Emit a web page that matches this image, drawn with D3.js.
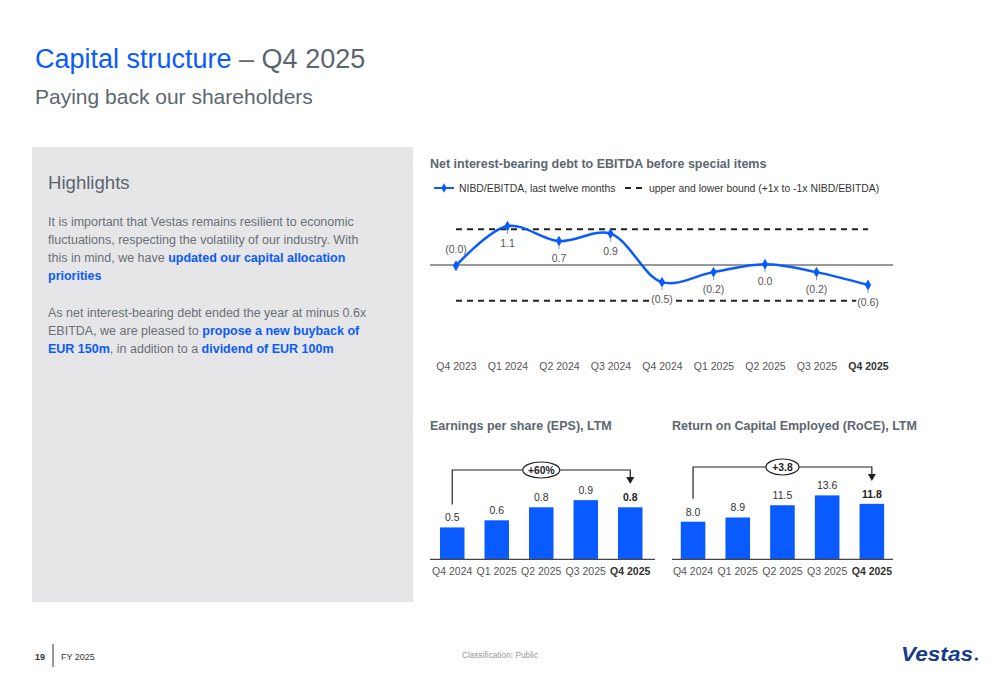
<!DOCTYPE html>
<html>
<head>
<meta charset="utf-8">
<script src="https://cdn.jsdelivr.net/npm/d3@7"></script>
<style>
  body { margin: 0; background: #fff; }
  svg { display: block; font-family: "Liberation Sans", Arial, sans-serif; }
</style>
</head>
<body>
<svg id="slide" width="1000" height="685"></svg>
<script>
// data
const quarters = ["Q4 2023", "Q1 2024", "Q2 2024", "Q3 2024", "Q4 2024", "Q1 2025", "Q2 2025", "Q3 2025", "Q4 2025"];
const nibdRatio = [-0.02, 1.09, 0.67, 0.88, -0.48, -0.2, 0.02, -0.2, -0.56];
const boundValues = [1, -1];

const barQuarters = ["Q4 2024", "Q1 2025", "Q2 2025", "Q3 2025", "Q4 2025"];
const epsValues = [0.49, 0.60, 0.80, 0.91, 0.80];
const roceValues = [8.0, 8.9, 11.5, 13.6, 11.8];
const epsChange = "+60%";
const roceChange = "+3.8";

const blue = "#0a5bff";
const grayTitle = "#5c6670";
const grayText = "#6b6f76";
const FONT = "Liberation Sans, Arial, sans-serif";

const svg = d3.select("#slide");

// ---------- header ----------
const title = svg.append("text").attr("x", 35).attr("y", 68).attr("font-size", 27);
title.append("tspan").attr("fill", blue).text("Capital structure");
title.append("tspan").attr("fill", grayTitle).text(" \u2013 Q4 2025");
svg.append("text").attr("x", 35).attr("y", 104).attr("font-size", 21)
  .attr("fill", grayTitle).text("Paying back our shareholders");

// ---------- highlights panel ----------
svg.append("rect").attr("x", 32).attr("y", 147).attr("width", 381).attr("height", 455)
  .attr("fill", "#e6e6e9");
svg.append("text").attr("x", 48).attr("y", 189).attr("font-size", 18.6)
  .attr("fill", grayTitle).text("Highlights");

const paraLines = [
  [["It is important that Vestas remains resilient to economic", false]],
  [["fluctuations, respecting the volatility of our industry. With", false]],
  [["this in mind, we have ", false], ["updated our capital allocation", true]],
  [["priorities", true]],
  null,
  [["As net interest-bearing debt ended the year at minus 0.6x", false]],
  [["EBITDA, we are pleased to ", false], ["propose a new buyback of", true]],
  [["EUR 150m", true], [", in addition to a ", false], ["dividend of EUR 100m", true]]
];
paraLines.forEach(function(line, i) {
  if (!line) return;
  const t = svg.append("text").attr("x", 48).attr("y", 226 + i * 18.1).attr("font-size", 12.5);
  line.forEach(function(part) {
    t.append("tspan")
      .attr("fill", part[1] ? blue : grayText)
      .attr("font-weight", part[1] ? "bold" : "normal")
      .text(part[0]);
  });
});

// ---------- NIBD/EBITDA line chart ----------
svg.append("text").attr("x", 430).attr("y", 168).attr("font-size", 12.5)
  .attr("font-weight", "bold").attr("fill", grayTitle)
  .text("Net interest-bearing debt to EBITDA before special items");

// legend
const leg = svg.append("g").attr("font-size", 10.4).attr("fill", "#333");
leg.append("line").attr("x1", 434).attr("x2", 454).attr("y1", 188).attr("y2", 188)
  .attr("stroke", blue).attr("stroke-width", 2);
leg.append("path").attr("d", d3.symbol(d3.symbolDiamond, 26)())
  .attr("transform", "translate(444,188)").attr("fill", blue);
leg.append("text").attr("x", 459).attr("y", 191.8).text("NIBD/EBITDA, last twelve months");
leg.append("line").attr("x1", 625).attr("x2", 642).attr("y1", 188).attr("y2", 188)
  .attr("stroke", "#222").attr("stroke-width", 2).attr("stroke-dasharray", "6,5");
leg.append("text").attr("x", 649).attr("y", 191.8).text("upper and lower bound (+1x to -1x NIBD/EBITDA)");

const xLine = d3.scalePoint().domain(quarters).range([456, 868]);
const yLine = d3.scaleLinear().domain([-1, 1]).range([300.7, 229.3]);

// zero line
svg.append("line").attr("x1", 430).attr("x2", 893)
  .attr("y1", yLine(0)).attr("y2", yLine(0))
  .attr("stroke", "#333").attr("stroke-width", 1);

// bounds
svg.selectAll(".bound").data(boundValues).enter().append("line")
  .attr("class", "bound")
  .attr("x1", xLine(quarters[0])).attr("x2", xLine(quarters[quarters.length - 1]))
  .attr("y1", d => yLine(d)).attr("y2", d => yLine(d))
  .attr("stroke", "#222").attr("stroke-width", 2).attr("stroke-dasharray", "6,5");

const pts = quarters.map((q, i) => ({ q: q, v: nibdRatio[i], i: i }));

const line = d3.line().x(d => xLine(d.q)).y(d => yLine(d.v)).curve(d3.curveCatmullRom.alpha(0.5));
svg.append("path").datum(pts).attr("d", line)
  .attr("fill", "none").attr("stroke", blue).attr("stroke-width", 2.5);

svg.selectAll(".mk").data(pts).enter().append("path")
  .attr("class", "mk")
  .attr("d", d3.symbol(d3.symbolDiamond, 34)())
  .attr("transform", d => "translate(" + xLine(d.q) + "," + yLine(d.v) + ")")
  .attr("fill", blue);

const fmtRatio = v => v < 0 ? "(" + Math.abs(v).toFixed(1) + ")" : v.toFixed(1);

// little leader ticks from point to label
svg.selectAll(".lead").data(pts.filter(d => d.i > 0)).enter().append("line")
  .attr("class", "lead")
  .attr("x1", d => xLine(d.q)).attr("x2", d => xLine(d.q))
  .attr("y1", d => yLine(d.v) + 5).attr("y2", d => yLine(d.v) + 8)
  .attr("stroke", "#999").attr("stroke-width", 1);

svg.selectAll(".lbl").data(pts).enter().append("text")
  .attr("class", "lbl")
  .attr("x", d => xLine(d.q))
  .attr("y", d => d.i === 0 ? yLine(d.v) - 12.5 : yLine(d.v) + 21)
  .attr("text-anchor", "middle").attr("font-size", 10.5).attr("fill", "#555")
  .attr("stroke", d => d.i >= 4 && d.v <= -0.45 ? "#fff" : "none")
  .attr("stroke-width", 4).attr("paint-order", "stroke")
  .text(d => fmtRatio(d.v));

const xAxisLine = svg.append("g").attr("transform", "translate(0,363)")
  .call(d3.axisBottom(xLine).tickSize(0).tickPadding(0));
xAxisLine.select(".domain").remove();
xAxisLine.selectAll("text")
  .attr("font-size", 10.5).attr("dy", "0.71em").attr("font-family", FONT)
  .attr("font-weight", (d, i) => i === quarters.length - 1 ? "bold" : "normal")
  .attr("fill", (d, i) => i === quarters.length - 1 ? "#333" : "#555");

// ---------- bar charts ----------
function barChart(opts) {
  const g = svg.append("g");
  g.append("text").attr("x", opts.titleX).attr("y", 430).attr("font-size", 12.5)
    .attr("font-weight", "bold").attr("fill", grayTitle).text(opts.title);

  const x = d3.scaleBand().domain(barQuarters).range(opts.range)
    .paddingInner(0.45).paddingOuter(0.225);
  const y = d3.scaleLinear().domain([0, opts.yMax]).range([559.3, 559.3 - opts.yPx]);
  const data = barQuarters.map((q, i) => ({ q: q, v: opts.values[i], i: i }));
  const last = barQuarters.length - 1;

  g.selectAll(".bar").data(data).enter().append("rect")
    .attr("x", d => x(d.q)).attr("width", x.bandwidth())
    .attr("y", d => y(d.v)).attr("height", d => y(0) - y(d.v))
    .attr("fill", blue);

  g.selectAll(".val").data(data).enter().append("text")
    .attr("x", d => x(d.q) + x.bandwidth() / 2)
    .attr("y", d => y(d.v) - 6)
    .attr("text-anchor", "middle").attr("font-size", 10.5)
    .attr("font-weight", d => d.i === last ? "bold" : "normal")
    .attr("fill", d => d.i === last ? "#222" : "#333")
    .text(d => d3.format(".1f")(d.v));

  const ax = g.append("g").attr("transform", "translate(0," + y(0) + ")")
    .call(d3.axisBottom(x).tickSize(0).tickPadding(8));
  ax.select(".domain").attr("stroke", "#444").attr("stroke-width", 1.2)
    .attr("d", "M" + opts.axisX[0] + ",0H" + opts.axisX[1]);
  ax.selectAll("text")
    .attr("font-size", 10.5).attr("font-family", FONT)
    .attr("font-weight", (d, i) => i === last ? "bold" : "normal")
    .attr("fill", (d, i) => i === last ? "#333" : "#555");

  // change bracket
  const x0 = x(barQuarters[0]) + x.bandwidth() / 2;
  const x1 = x(barQuarters[last]) + x.bandwidth() / 2;
  const top = opts.bracketY;
  g.append("path")
    .attr("d", "M" + x0 + "," + (y(opts.values[0]) - 23) + "V" + top + "H" + x1 + "V" + (top + 8))
    .attr("fill", "none").attr("stroke", "#222").attr("stroke-width", 1.2);
  g.append("path")
    .attr("d", "M" + (x1 - 4) + "," + (top + 7) + "L" + (x1 + 4) + "," + (top + 7) + "L" + x1 + "," + (top + 14) + "Z")
    .attr("fill", "#222");
  const cx = (x0 + x1) / 2;
  g.append("ellipse").attr("cx", cx).attr("cy", top).attr("rx", opts.rx).attr("ry", 8)
    .attr("fill", "#fff").attr("stroke", "#222").attr("stroke-width", 1.2);
  g.append("text").attr("x", cx).attr("y", top + 3.7).attr("text-anchor", "middle")
    .attr("font-size", 10.3).attr("font-weight", "bold").attr("fill", "#222").text(opts.change);
}

barChart({
  title: "Earnings per share (EPS), LTM", titleX: 430,
  values: epsValues, yMax: 1, yPx: 65,
  range: [430, 652.5], axisX: [430, 655],
  bracketY: 470, change: epsChange, rx: 18.5
});
barChart({
  title: "Return on Capital Employed (RoCE), LTM", titleX: 672,
  values: roceValues, yMax: 14, yPx: 65.8,
  range: [670.7, 894.2], axisX: [672, 893],
  bracketY: 467, change: roceChange, rx: 16.5
});

// ---------- footer ----------
svg.append("text").attr("x", 35).attr("y", 660).attr("font-size", 9)
  .attr("font-weight", "bold").attr("fill", "#333").text("19");
svg.append("line").attr("x1", 53).attr("x2", 53).attr("y1", 644).attr("y2", 667)
  .attr("stroke", "#333").attr("stroke-width", 1);
svg.append("text").attr("x", 61).attr("y", 660).attr("font-size", 9)
  .attr("fill", "#333").text("FY 2025");
svg.append("text").attr("x", 500).attr("y", 658).attr("font-size", 8.3)
  .attr("text-anchor", "middle").attr("fill", "#999").text("Classification: Public");
svg.append("text").attr("x", 901).attr("y", 661).attr("font-size", 21)
  .attr("font-weight", "bold").attr("font-style", "italic").attr("fill", "#163b8c")
  .attr("textLength", 72).attr("lengthAdjust", "spacingAndGlyphs").text("Vestas");
svg.append("circle").attr("cx", 976.5).attr("cy", 659).attr("r", 1.6).attr("fill", "#163b8c");
</script>
</body>
</html>
